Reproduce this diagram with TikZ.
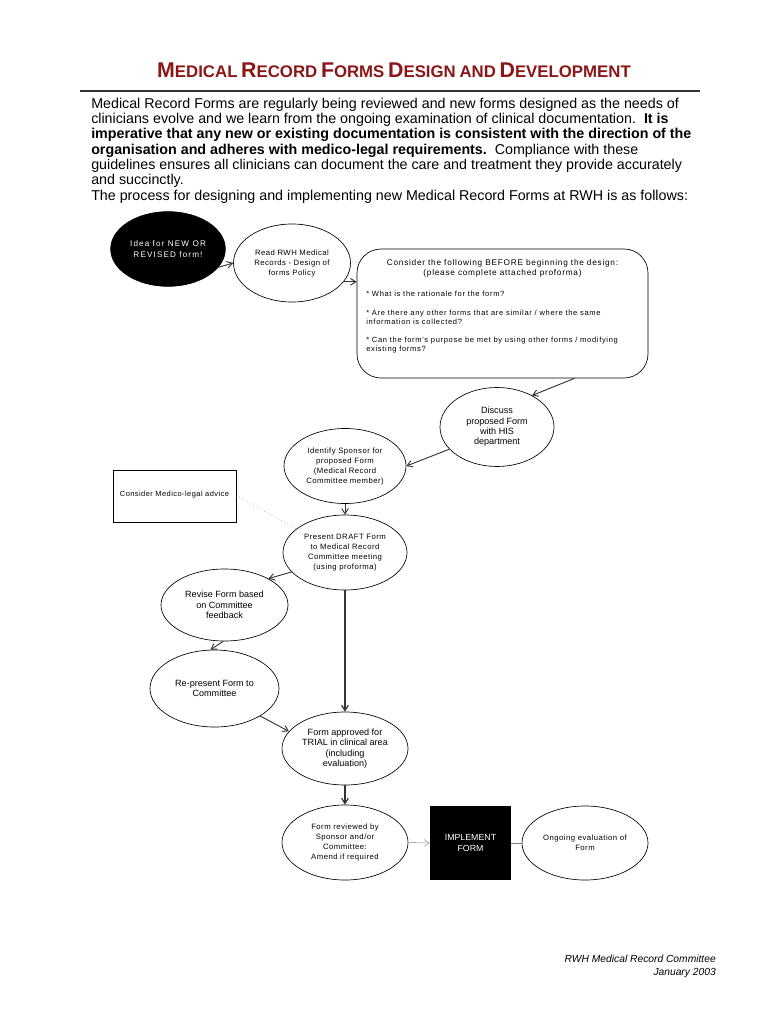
\documentclass[tikz,border=0pt]{standalone}
\usepackage{fontspec}
\setmainfont{Liberation Sans}
\newfontfamily\spaced[LetterSpace=6]{Liberation Sans}
\newfontfamily\wide[LetterSpace=9]{Liberation Sans}
\newfontfamily\wider[LetterSpace=14]{Liberation Sans}
\usetikzlibrary{shapes.geometric,arrows.meta}
\definecolor{titlered}{HTML}{8B1616}
\definecolor{linegray}{HTML}{333333}
\newcommand\tcap[2]{{\fontsize{16}{16}\selectfont #1}{\fontsize{12.6}{12.6}\selectfont #2}}
\begin{document}
\begin{tikzpicture}[x=0.75pt,y=-0.75pt,
  ell/.style={draw,ellipse,inner sep=0pt,line width=0.5pt,align=center},
  small/.style={font=\spaced\fontsize{5.8}{7.5}\selectfont},
  big/.style={font=\fontsize{6.8}{7.8}\selectfont},
  arr/.style={-{Straight Barb[length=4pt,width=5pt]},line width=0.7pt,draw=linegray},
  thinarr/.style={-{Straight Barb[length=4pt,width=5pt]},line width=0.3pt,draw=gray},
  thin/.style={line width=0.3pt,draw=gray},
]
\useasboundingbox[fill=white] (0,0) rectangle (768,1024);

% title
\node[font=\bfseries,text=titlered,anchor=base] (title) at (394,78)
  {\tcap{M}{EDICAL} \tcap{R}{ECORD} \tcap{F}{ORMS} \tcap{D}{ESIGN} \tcap{}{AND} \tcap{D}{EVELOPMENT}};
\draw[line width=0.8pt,draw=linegray] (80,91) -- (700,91);

% body
\node[anchor=north west,inner sep=0pt,align=left,font=\fontsize{10.7}{11.5}\selectfont] (body) at (91,97.5)
{Medical Record Forms are regularly being reviewed and new forms designed as the needs of\\
clinicians evolve and we learn from the ongoing examination of clinical documentation.\ \ \textbf{It is}\\
\textbf{imperative that any new or existing documentation is consistent with the direction of the}\\
\textbf{organisation and adheres with medico-legal requirements.}\ \ Compliance with these\\
guidelines ensures all clinicians can document the care and treatment they provide accurately\\
and succinctly.\\
The process for designing and implementing new Medical Record Forms at RWH is as follows:};

% nodes
\node[ell,fill=black,text=white,font=\wider\fontsize{6.1}{8.2}\selectfont,minimum width=86pt,minimum height=56pt] (idea) at (168,249)
  {Idea for NEW OR\\REVISED form!};
\node[ell,small,minimum width=87.75pt,minimum height=58.5pt] (read) at (292,263)
  {Read RWH Medical\\Records - Design of\\forms Policy};
\node[draw,rounded corners=18pt,line width=0.5pt,minimum width=218.25pt,minimum height=96.75pt] (consider) at (502.5,313.5) {};
\node[align=center,inner sep=0pt,font=\wide\fontsize{6.2}{7}\selectfont] (consH) at (502.5,268.5)
  {Consider the following BEFORE beginning the design:\\(please complete attached proforma)};
\node[align=left,anchor=north west,inner sep=0pt,font=\wide\fontsize{5.65}{7}\selectfont] (consB) at (366,290.5)
  {*\ What is the rationale for the form?\\[7.2pt]
   *\ Are there any other forms that are similar / where the same\\information is collected?\\[6.5pt]
   *\ Can the form's purpose be met by using other forms / modifying\\existing forms?};
\node[ell,big,minimum width=85.5pt,minimum height=59.25pt] (discuss) at (497,427)
  {Discuss\\proposed Form\\with HIS\\department};
\node[ell,small,minimum width=91.5pt,minimum height=56.25pt] (identify) at (345,466)
  {Identify Sponsor for\\proposed Form\\(Medical Record\\Committee member)};
\node[draw,line width=0.6pt,minimum width=92.25pt,minimum height=39pt,font=\spaced\fontsize{5.6}{7.5}\selectfont] (medico) at (174.5,496)
  {\raisebox{3pt}{Consider Medico-legal advice}};
\node[ell,small,minimum width=93pt,minimum height=56.25pt] (present) at (345,552.5)
  {Present DRAFT Form\\to Medical Record\\Committee meeting\\(using proforma)};
\node[ell,big,minimum width=95.25pt,minimum height=54pt] (revise) at (224.5,605)
  {Revise Form based\\on Committee\\feedback};
\node[ell,big,minimum width=96.75pt,minimum height=57.75pt] (represent) at (214.5,688.5)
  {Re-present Form to\\Committee};
\node[ell,big,minimum width=94.5pt,minimum height=54.75pt] (approved) at (345,748.5)
  {Form approved for\\TRIAL in clinical area\\(including\\evaluation)};
\node[ell,small,minimum width=94.5pt,minimum height=56.25pt] (reviewed) at (345,842.5)
  {Form reviewed by\\Sponsor and/or\\Committee:\\Amend if required};
\node[fill=black,text=white,font=\fontsize{6.6}{7.8}\selectfont,align=center,minimum width=60.75pt,minimum height=55.5pt,inner sep=0pt] (implement) at (470.5,843)
  {IMPLEMENT\\FORM};
\node[ell,small,minimum width=94.5pt,minimum height=55.5pt] (ongoing) at (585,843)
  {Ongoing evaluation of\\Form};

% footer
\node[anchor=north east,align=right,inner sep=0pt,font=\itshape\fontsize{7.7}{9.75}\selectfont] (footer) at (716,955)
  {RWH Medical Record Committee\\January 2003};

% connectors
\draw[arr] (idea.-20) -- (read.west);
\draw[arr] (read.-20) -- (read.-20 -| consider.west);
\draw[arr] ([xshift=54pt]consider.south) -- (discuss.42);
\draw[arr] (discuss.205) -- (identify.east);
\draw[arr] (identify.south) -- (present.north);
\draw[dotted,line width=0.4pt,draw=gray] (medico.east) -- (present.154);
\draw[arr] (present.200) -- (revise.31);
\draw[arr] (revise.-92) -- (represent.96);
\draw[arr,line width=0.9pt] (present.south) -- (approved.north);
\draw[arr] (represent.-31) -- (approved.163);
\draw[arr,line width=0.9pt] (approved.south) -- (reviewed.north);
\draw[thinarr] (reviewed.east) -- (implement.west);
\draw[thin] (implement.east) -- (ongoing.west);
\end{tikzpicture}
\end{document}
